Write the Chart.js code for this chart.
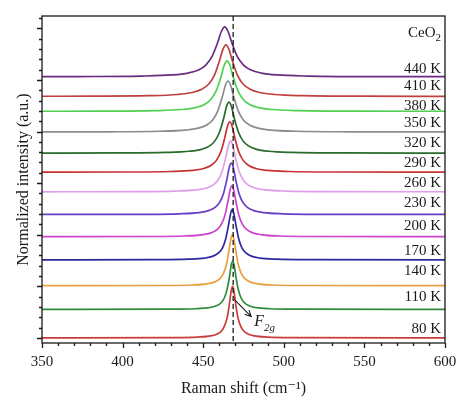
<!DOCTYPE html>
<html>
<head>
<meta charset="utf-8">
<script src="https://cdn.jsdelivr.net/npm/chart.js@4.4.1/dist/chart.umd.min.js"></script>
<style>
    html, body { margin: 0; padding: 0; background: #fff; }
    #wrap { width: 474px; height: 414px; }
</style>
</head>
<body>
<div id="wrap"><canvas id="myChart" width="474" height="414"></canvas></div>
<script>
// temperatures, bottom to top
var temps = ['80 K', '110 K', '140 K', '170 K', '200 K', '230 K', '260 K', '290 K', '320 K', '350 K', '380 K', '410 K', '440 K'];
// vertical offset of each normalized spectrum (a.u.)
var baselines = [0, 0.55, 1.01, 1.51, 1.96, 2.39, 2.83, 3.21, 3.58, 3.99, 4.39, 4.68, 5.06];

// spectra: [Raman shift, normalized intensity]
var k80 = [[350,0.001],[430.4,0.005],[446.6,0.015],[454.7,0.038],[458.8,0.076],[461.5,0.138],[463.3,0.236],[465.0,0.41],[466.3,0.671],[467.4,0.917],[468.2,1.0],[469.0,0.917],[470.1,0.671],[471.4,0.41],[473.1,0.236],[475.0,0.138],[477.7,0.076],[481.7,0.038],[489.8,0.015],[506.0,0.005],[600,0.001]];
var k110 = [[350,0.001],[427.7,0.005],[445.1,0.014],[453.8,0.036],[458.2,0.071],[461.1,0.13],[463.1,0.222],[464.8,0.385],[466.3,0.631],[467.4,0.862],[468.3,0.94],[469.2,0.862],[470.3,0.631],[471.8,0.385],[473.5,0.222],[475.6,0.13],[478.5,0.071],[482.8,0.036],[491.5,0.014],[508.9,0.005],[600,0.001]];
var k140 = [[350,0.001],[424.7,0.005],[443.3,0.015],[452.6,0.038],[457.3,0.075],[460.4,0.137],[462.5,0.234],[464.4,0.406],[465.9,0.664],[467.2,0.908],[468.1,0.99],[469.0,0.908],[470.3,0.664],[471.8,0.406],[473.7,0.234],[475.9,0.137],[479.0,0.075],[483.6,0.038],[492.9,0.015],[511.5,0.005],[600,0.001]];
var k170 = [[350,0.001],[420.4,0.005],[440.8,0.015],[451.0,0.037],[456.1,0.074],[459.5,0.135],[461.9,0.231],[463.9,0.402],[465.6,0.658],[467.0,0.899],[468.0,0.98],[469.0,0.899],[470.4,0.658],[472.1,0.402],[474.1,0.231],[476.5,0.135],[479.9,0.074],[485.0,0.037],[495.2,0.015],[515.6,0.005],[600,0.002]];
var k200 = [[350,0.002],[416.0,0.005],[438.2,0.015],[449.3,0.038],[454.9,0.075],[458.6,0.137],[461.1,0.234],[463.4,0.406],[465.2,0.664],[466.7,0.908],[467.8,0.99],[468.9,0.908],[470.4,0.664],[472.2,0.406],[474.5,0.234],[477.1,0.137],[480.8,0.075],[486.3,0.038],[497.4,0.015],[519.6,0.005],[600,0.002]];
var k230 = [[350,0.002],[411.4,0.005],[435.4,0.015],[447.4,0.038],[453.4,0.076],[457.4,0.138],[460.2,0.236],[462.6,0.41],[464.6,0.671],[466.2,0.917],[467.4,1.0],[468.6,0.917],[470.2,0.671],[472.2,0.41],[474.6,0.236],[477.4,0.138],[481.4,0.076],[487.4,0.038],[499.4,0.015],[523.4,0.005],[600,0.002]];
var k260 = [[350,0.002],[406.8,0.005],[432.6,0.015],[445.5,0.038],[452.0,0.075],[456.3,0.137],[459.3,0.234],[461.8,0.406],[464.0,0.664],[465.7,0.908],[467.0,0.99],[468.3,0.908],[470.0,0.664],[472.2,0.406],[474.7,0.234],[477.8,0.137],[482.1,0.075],[488.5,0.038],[501.4,0.015],[527.2,0.005],[600,0.002]];
var k290 = [[350,0.003],[402.1,0.005],[429.7,0.015],[443.5,0.037],[450.4,0.074],[455.0,0.135],[458.2,0.231],[461.0,0.402],[463.3,0.658],[465.1,0.899],[466.5,0.98],[467.9,0.899],[469.7,0.658],[472.0,0.402],[474.8,0.231],[478.0,0.135],[482.6,0.074],[489.5,0.037],[503.3,0.015],[530.9,0.005],[600,0.002]];
var k320 = [[350,0.003],[397.4,0.005],[426.8,0.015],[441.5,0.038],[448.9,0.075],[453.8,0.137],[457.2,0.234],[460.1,0.406],[462.6,0.664],[464.5,0.908],[466.0,0.99],[467.5,0.908],[469.4,0.664],[471.9,0.406],[474.8,0.234],[478.3,0.137],[483.2,0.075],[490.5,0.038],[505.2,0.015],[534.6,0.005],[600,0.002]];
var k350 = [[350,0.003],[391.2,0.005],[423.0,0.015],[438.9,0.038],[446.9,0.075],[452.2,0.137],[455.9,0.234],[459.0,0.406],[461.7,0.664],[463.8,0.908],[465.4,0.99],[467.0,0.908],[469.1,0.664],[471.8,0.406],[474.9,0.234],[478.7,0.137],[484.0,0.075],[491.9,0.038],[507.8,0.015],[539.6,0.005],[600,0.003]];
var k380 = [[350,0.003],[386.4,0.005],[420.0,0.015],[436.8,0.037],[445.2,0.074],[450.8,0.135],[454.7,0.231],[458.1,0.402],[460.9,0.658],[463.1,0.899],[464.8,0.98],[466.5,0.899],[468.7,0.658],[471.5,0.402],[474.9,0.231],[478.8,0.135],[484.4,0.074],[492.8,0.037],[509.6,0.015],[543.2,0.005],[600,0.003]];
var k410 = [[350,0.004],[380.1,0.006],[416.1,0.015],[434.1,0.038],[443.1,0.076],[449.1,0.138],[453.3,0.236],[456.9,0.41],[459.9,0.671],[462.3,0.917],[464.1,1.0],[465.9,0.917],[468.3,0.671],[471.3,0.41],[474.9,0.236],[479.1,0.138],[485.1,0.076],[494.1,0.038],[512.1,0.015],[548.1,0.005],[600,0.003]];
var k440 = [[350,0.004],[372.3,0.006],[411.3,0.015],[430.8,0.037],[440.6,0.074],[447.1,0.134],[451.6,0.229],[455.5,0.398],[458.8,0.651],[461.4,0.889],[463.3,0.97],[465.3,0.889],[467.9,0.651],[471.1,0.398],[475.0,0.229],[479.6,0.134],[486.1,0.074],[495.8,0.037],[515.3,0.015],[554.3,0.005],[600,0.004]];

var spectra = [k80, k110, k140, k170, k200, k230, k260, k290, k320, k350, k380, k410, k440];
var xTicks = [350, 400, 450, 500, 550, 600];
var f2gPeak = 468.6;

var colors = ['#c83c3c', '#2e8b3a', '#e8a040', '#2a2aa0', '#cc44cc', '#6a3cc8', '#dda0e8',
              '#c83232', '#2a6a2a', '#8c8c8c', '#50d050', '#c04040', '#6a2a80'];
// how far each temperature label sits above its baseline (px)
var labelLift = [9, 12, 15, 9, 11, 12, 9, 9, 10, 9, 5, 10, 8];

var serif = '"Liberation Serif", "DejaVu Serif", serif';

var datasets = spectra.map(function (s, i) {
    return {
        label: temps[i],
        data: s.map(function (p) { return { x: p[0], y: p[1] + baselines[i] }; }),
        borderColor: colors[i],
        borderWidth: 1.7,
        pointRadius: 0,
        fill: false,
        cubicInterpolationMode: 'monotone'
    };
});

// frame, ticks, dashed F2g line and text labels
var decor = {
    id: 'decor',
    afterDatasetsDraw: function (chart) {
        var ctx = chart.ctx, a = chart.chartArea, x = chart.scales.x, y = chart.scales.y;
        ctx.save();
        ctx.strokeStyle = '#1a1a1a';
        ctx.lineWidth = 1.3;
        ctx.strokeRect(a.left, a.top, a.right - a.left, a.bottom - a.top);

        ctx.beginPath();
        for (var v = 350; v <= 600; v += 10) {
            var px = Math.round(x.getPixelForValue(v)) + 0.5;
            ctx.moveTo(px, a.bottom);
            ctx.lineTo(px, a.bottom + (v % 50 === 0 ? 5 : 3));
        }
        for (var i = 0; i <= 31; i++) {
            var py = Math.round(y.getPixelForValue(i * 0.2)) + 0.5;
            ctx.moveTo(a.left, py);
            ctx.lineTo(a.left - (i % 5 === 0 ? 5 : 3), py);
        }
        ctx.stroke();

        // dashed line at the F2g position
        var dx = x.getPixelForValue(f2gPeak);
        ctx.setLineDash([5, 3]);
        ctx.lineWidth = 1.3;
        ctx.beginPath();
        ctx.moveTo(dx, a.top);
        ctx.lineTo(dx, a.bottom);
        ctx.stroke();
        ctx.setLineDash([]);

        // arrow to the F2g label
        var x0 = x.getPixelForValue(469.4), y0 = y.getPixelForValue(0.74);
        var x1 = x.getPixelForValue(479.8), y1 = y.getPixelForValue(0.41);
        var ang = Math.atan2(y1 - y0, x1 - x0);
        ctx.lineWidth = 1.1;
        ctx.beginPath();
        ctx.moveTo(x0, y0);
        ctx.lineTo(x1, y1);
        ctx.moveTo(x1 - 7 * Math.cos(ang - 0.45), y1 - 7 * Math.sin(ang - 0.45));
        ctx.lineTo(x1, y1);
        ctx.lineTo(x1 - 7 * Math.cos(ang + 0.45), y1 - 7 * Math.sin(ang + 0.45));
        ctx.stroke();

        ctx.fillStyle = '#1a1a1a';
        ctx.textBaseline = 'middle';
        ctx.textAlign = 'left';
        ctx.font = 'italic 16px ' + serif;
        ctx.fillText('F', x1 + 3, y1 + 5);
        var fw = ctx.measureText('F').width;
        ctx.font = 'italic 11px ' + serif;
        ctx.fillText('2g', x1 + 3 + fw, y1 + 11);

        // temperature labels
        ctx.textAlign = 'right';
        ctx.font = '15px ' + serif;
        var rx = a.right - 4;
        temps.forEach(function (t, j) {
            ctx.fillText(t, rx, y.getPixelForValue(baselines[j]) - labelLift[j]);
        });

        // CeO2
        ctx.font = '11px ' + serif;
        var sw = ctx.measureText('2').width;
        ctx.fillText('2', rx, 38);
        ctx.font = '15px ' + serif;
        ctx.fillText('CeO', rx - sw, 33);
        ctx.restore();
    }
};

var ctx = document.getElementById('myChart').getContext('2d');
var myChart = new Chart(ctx, {
    type: 'line',
    data: { datasets: datasets },
    options: {
        responsive: false,
        animation: false,
        devicePixelRatio: 1,
        layout: { padding: { top: 16, right: 29, left: 0, bottom: 0 } },
        plugins: { legend: { display: false }, tooltip: { enabled: false } },
        scales: {
            x: {
                type: 'linear',
                min: 350,
                max: 600,
                afterFit: function (s) { s.height = 71; },
                afterBuildTicks: function (s) { s.ticks = xTicks.map(function (v) { return { value: v }; }); },
                grid: { display: false, drawTicks: false },
                border: { display: false },
                ticks: { padding: 10, color: '#1a1a1a', font: { family: serif, size: 15 } },
                title: {
                    display: true,
                    text: 'Raman shift (cm\u207B\u00B9)',
                    color: '#1a1a1a',
                    font: { family: serif, size: 16 },
                    padding: { top: 0, bottom: 16 }
                }
            },
            y: {
                type: 'linear',
                min: -0.1,
                max: 6.24,
                afterFit: function (s) { s.width = 42; },
                grid: { display: false, drawTicks: false },
                border: { display: false },
                ticks: { display: false },
                title: {
                    display: true,
                    text: 'Normalized intensity (a.u.)',
                    color: '#1a1a1a',
                    font: { family: serif, size: 16 },
                    padding: { top: 14, bottom: 0 }
                }
            }
        }
    },
    plugins: [decor]
});
</script>
</body>
</html>
